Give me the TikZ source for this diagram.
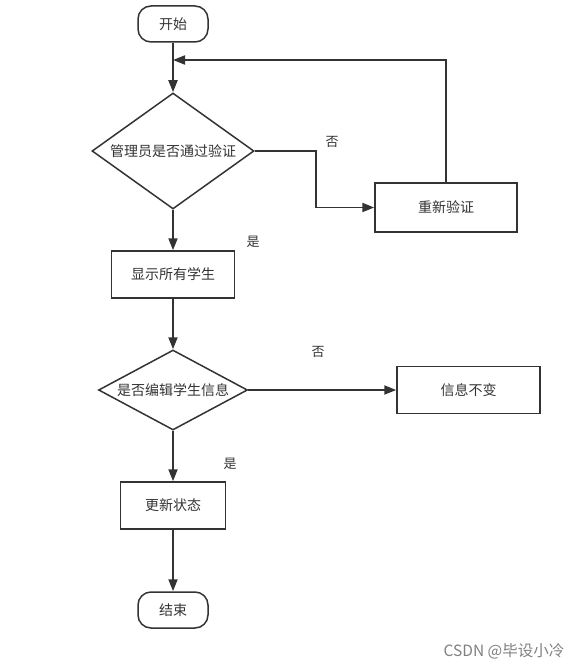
\documentclass[tikz,border=0pt]{standalone}
\usepackage{fontspec}
\setmainfont{Noto Sans CJK SC}
\usetikzlibrary{shapes.geometric,arrows.meta}
\definecolor{linegray}{HTML}{333333}

\begin{document}
\begin{tikzpicture}[x=1pt,y=-1pt,
  every node/.style={font=\fontsize{14}{16}\selectfont, text=black!80},
  term/.style={draw=linegray, line width=1.5pt, rounded corners=13pt, minimum width=70pt, minimum height=36pt, inner sep=0pt},
  proc/.style={draw=linegray, line width=1.5pt, rectangle, inner sep=0pt, minimum height=47pt},
  decide/.style={draw=linegray, line width=1.5pt, diamond, inner sep=0pt},
  flow/.style={draw=linegray, line width=1.8pt, -{Triangle[length=12pt,width=9pt]}},
  lbl/.style={font=\fontsize{13}{15}\selectfont}]
\useasboundingbox (0,0) rectangle (588,671);
\node[term] (start) at (173,24) {开始};
\node[decide, aspect=1.4, minimum width=162pt, minimum height=116pt] (auth) at (173,151) {管理员是否通过验证};
\node[proc, minimum width=142pt, minimum height=49pt] (redo) at (446,207.5) {重新验证};
\node[proc, minimum width=123pt] (list) at (173,274.5) {显示所有学生};
\node[decide, aspect=1.86, minimum width=149pt, minimum height=80pt] (edit) at (173,390) {是否编辑学生信息};
\node[proc, minimum width=143pt] (keep) at (468.5,390) {信息不变};
\node[proc, minimum width=105pt] (update) at (173,505.5) {更新状态};
\node[term] (stop) at (173,610) {结束};
% labels
\node[lbl] (no1) at (332,142) {否};
\node[lbl] (yes1) at (253,242) {是};
\node[lbl] (no2) at (318,352) {否};
\node[lbl] (yes2) at (230,464) {是};
\node[text=gray, font=\fontsize{15.5}{17}\selectfont] (mark) at (504,651) {CSDN @毕设小冷};
% connectors
\coordinate (join) at (173,60);
\draw[flow] (start) -- (auth);
\draw[flow] (redo) |- (join);
\draw[flow] (auth.east) -- ++(61,0) |- (redo.west);
\draw[flow] (auth) -- (list);
\draw[flow] (list) -- (edit);
\draw[flow] (edit) -- (keep);
\draw[flow] (edit) -- (update);
\draw[flow] (update) -- (stop);
\end{tikzpicture}
\end{document}
